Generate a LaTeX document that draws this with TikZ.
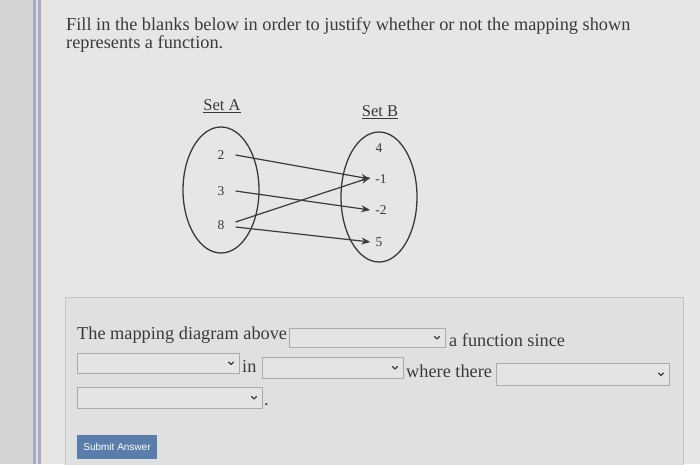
\documentclass[tikz,border=0pt]{standalone}
\usepackage{fontspec}
\setmainfont{Liberation Serif}
\setsansfont{Liberation Sans}
\usetikzlibrary{arrows.meta}
\definecolor{bg}{HTML}{E7E6E4}
\definecolor{panel}{HTML}{DFE0E2}
\definecolor{ink}{HTML}{3A3A3C}
\definecolor{boxfill}{HTML}{E4E4E4}
\definecolor{boxline}{HTML}{ABABAB}
\definecolor{btn}{HTML}{5A7DAB}
\definecolor{bar}{HTML}{A7AAC0}
\tikzset{
  txt/.style={anchor=base west, inner sep=0pt, text=ink, font=\fontsize{18.3}{21}\selectfont},
  elem/.style={inner sep=1pt, text=ink, font=\fontsize{13.5}{15}\selectfont},
  setlbl/.style={inner sep=0pt, text=ink, font=\fontsize{16.5}{18}\selectfont},
  ell/.style={draw=ink, line width=1.3pt},
  maparrow/.style={draw=ink, line width=1.2pt, -{Stealth[length=9pt,width=7pt]}},
  dd/.style={draw=boxline, fill=boxfill, line width=0.8pt},
  chev/.style={draw=ink, line width=1.2pt, line cap=round, line join=round}
}
\newcommand{\dropdown}[5]{% name, x1, y1, x2, y2
  \draw[dd] (#2,#3) rectangle (#4,#5);
  \coordinate (#1) at (#4-8,{(#3+#5)/2});
  \draw[chev] ([shift={(-2.5,-1)}]#1) -- ([shift={(0,1.5)}]#1) -- ([shift={(2.5,-1)}]#1);
}
\begin{document}
\begin{tikzpicture}[x=1pt,y=-1pt]
\useasboundingbox (0,0) rectangle (700,464);
\fill[bg] (0,0) rectangle (700,464);
\fill[bg!92!black] (0,0) rectangle (33,464);
\fill[bar] (33,0) rectangle (41,464);
\fill[bar!40!white] (36,0) rectangle (38,464);
% heading
\node[txt] (h1) at (66,30) {Fill in the blanks below in order to justify whether or not the mapping shown};
\node[txt] (h2) at (66,48) {represents a function.};
% set labels
\node[setlbl] (sa) at (222,106) {\underline{Set A}};
\node[setlbl] (sb) at (380,112) {\underline{Set B}};
% ellipses
\draw[ell] (221,190) ellipse [x radius=38, y radius=63];
\draw[ell] (379,197) ellipse [x radius=38, y radius=65];
% elements A
\node[elem] (a2) at (221,155) {2};
\node[elem] (a3) at (221,191) {3};
\node[elem] (a8) at (221,225) {8};
% elements B
\node[elem] (b4) at (379,148) {4};
\node[elem] (bm1) at (381,179) {-1};
\node[elem] (bm2) at (381,210) {-2};
\node[elem] (b5) at (379,242) {5};
% arrows
\draw[maparrow] (a2.east) ++(10,0) -- ([xshift=-4]bm1.west);
\draw[maparrow] (a3.east) ++(10,0) -- ([xshift=-4]bm2.west);
\draw[maparrow] ([yshift=3]a8.east) ++(10,0) -- ([shift={(-4,-1.5)}]bm1.west);
\draw[maparrow] ([yshift=-2]a8.east) ++(10,0) -- ([xshift=-4]b5.west);
% panel
\draw[fill=panel, draw=boxline!70] (65,297) rectangle (683,470);
\node[txt] (t1) at (77,339) {The mapping diagram above};
\dropdown{d1}{289}{328}{445}{347}
\node[txt] (t2) at (449,346) {a function since};
\dropdown{d2}{77}{353}{239}{373}
\node[txt] (t3) at (242,372) {in};
\dropdown{d3}{262}{357}{403}{378}
\node[txt] (t4) at (406,377) {where there};
\dropdown{d4}{496}{363}{669}{385}
\dropdown{d5}{77}{387}{262}{408}
\node[txt] (t5) at (264,405) {.};
% submit button
\fill[btn] (77,435) rectangle (157,459);
\node[inner sep=0pt, text=white, font=\sffamily\fontsize{10}{12}\selectfont] (sub) at (117,447) {Submit Answer};
\end{tikzpicture}
\end{document}
